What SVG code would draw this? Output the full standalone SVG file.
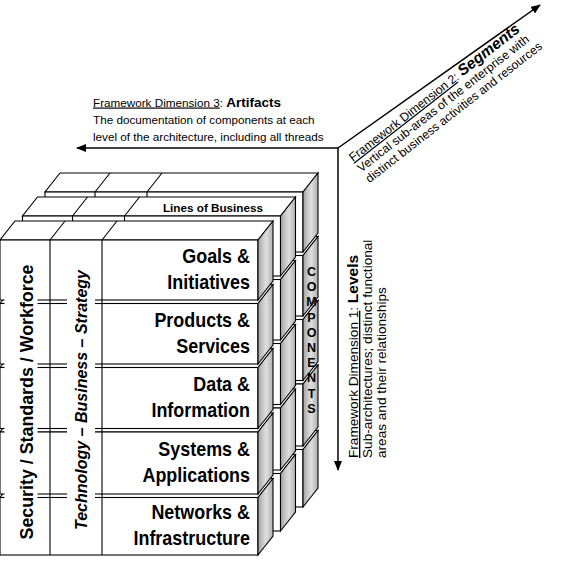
<svg xmlns="http://www.w3.org/2000/svg" xmlns:xlink="http://www.w3.org/1999/xlink" width="561" height="561" viewBox="0 0 561 561">
<style>
text{font-family:"Liberation Sans",Arial,sans-serif;fill:#000}
.f{fill:#fff;stroke:#000;stroke-width:1.1}
.s{fill:url(#side);stroke:#000;stroke-width:1.1}
.ln{stroke:#000;stroke-width:1.1;fill:none}
.ax{stroke:#000;stroke-width:1.5;fill:none;marker-end:url(#ah)}
.row{font-size:19.5px;font-weight:bold;text-anchor:end}
.lbl{font-size:11.7px}
.lvl{font-size:13.6px}
.seg{font-size:12.2px}
.cmp{font-size:12.5px;font-weight:bold;text-anchor:middle}
</style>
<defs>
<linearGradient id="side" x1="0" y1="0" x2="1" y2="0">
<stop offset="0" stop-color="#a2a2a2"/>
<stop offset="0.35" stop-color="#cdcdcd"/>
<stop offset="0.55" stop-color="#dedede"/>
<stop offset="0.78" stop-color="#c6c6c6"/>
<stop offset="1" stop-color="#b0b0b0"/>
</linearGradient>
<marker id="ah" viewBox="0 0 10 8" refX="9" refY="4" markerWidth="10" markerHeight="8" orient="auto" markerUnits="userSpaceOnUse">
<path d="M0,0 L10,4 L0,8 z" fill="#000"/>
</marker>
<g id="slab">
<g id="r5"><polygon class="f" points="0,257.5 258,257.5 273,238.5 15,238.5"/><rect class="f" x="0" y="257.5" width="258" height="57.5"/><polygon class="s" points="258,257.5 273,238.5 273,296 258,315"/></g>
<g id="r4"><polygon class="f" points="0,192 258,192 273,173 15,173"/><rect class="f" x="0" y="192" width="258" height="62"/><polygon class="s" points="258,192 273,173 273,235 258,254"/></g>
<g id="r3"><polygon class="f" points="0,127.5 258,127.5 273,108.5 15,108.5"/><rect class="f" x="0" y="127.5" width="258" height="61"/><polygon class="s" points="258,127.5 273,108.5 273,169.5 258,188.5"/></g>
<g id="r2"><polygon class="f" points="0,63.5 258,63.5 273,44.5 15,44.5"/><rect class="f" x="0" y="63.5" width="258" height="60.5"/><polygon class="s" points="258,63.5 273,44.5 273,105 258,124"/></g>
<g id="r1"><polygon class="f" points="0,0 258,0 273,-19 15,-19"/><rect class="f" x="0" y="0" width="258" height="60"/><polygon class="s" points="258,0 273,-19 273,41 258,60"/></g>
<path class="ln" d="M50,0 L65,-19 M102,0 L117,-19 M50,0 V315 M102,0 V315"/>
</g>
</defs>

<g id="connectors">
<path class="ax" d="M338,148 H77"/>
<path class="ax" d="M338,148 V470"/>
<path class="ax" d="M338,148 L540,5"/>
</g>

<g id="back-slab">
<use xlink:href="#slab" href="#slab" transform="translate(45,192)"/>
<g id="components">
<text class="cmp" x="311.5" y="276">C</text>
<text class="cmp" x="311.5" y="291.2">O</text>
<text class="cmp" x="311.5" y="306.4">M</text>
<text class="cmp" x="311.5" y="321.6">P</text>
<text class="cmp" x="311.5" y="336.8">O</text>
<text class="cmp" x="311.5" y="352">N</text>
<text class="cmp" x="311.5" y="367.2">E</text>
<text class="cmp" x="311.5" y="382.4">N</text>
<text class="cmp" x="311.5" y="397.6">T</text>
<text class="cmp" x="311.5" y="412.8">S</text>
</g>
</g>

<g id="middle-slab">
<use xlink:href="#slab" href="#slab" transform="translate(22.5,216)"/>
<text x="213" y="212" font-size="11.7" font-weight="bold" text-anchor="middle">Lines of Business</text>
</g>

<g id="front-slab">
<use xlink:href="#slab" href="#slab" transform="translate(0,240)"/>
<rect x="4.5" y="262" width="33" height="281" fill="#fff"/>
<rect x="67" y="268" width="28" height="265" fill="#fff"/>
<text transform="translate(32.5,402) rotate(-90)" font-size="19" font-weight="bold" text-anchor="middle" textLength="275" lengthAdjust="spacingAndGlyphs">Security / Standards / Workforce</text>
<text transform="translate(86.5,400) rotate(-90)" font-size="16" font-weight="bold" font-style="italic" text-anchor="middle">Technology – Business – Strategy</text>
<g transform="translate(250,0) scale(0.92,1)">
<g id="goals"><text class="row" x="0" y="263">Goals &amp;</text><text class="row" x="0" y="289.5">Initiatives</text></g>
<g id="products"><text class="row" x="0" y="326.8">Products &amp;</text><text class="row" x="0" y="353.3">Services</text></g>
<g id="data"><text class="row" x="0" y="391">Data &amp;</text><text class="row" x="0" y="417.5">Information</text></g>
<g id="systems"><text class="row" x="0" y="456">Systems &amp;</text><text class="row" x="0" y="482.5">Applications</text></g>
<g id="networks"><text class="row" x="0" y="519.5">Networks &amp;</text><text class="row" x="0" y="545.5">Infrastructure</text></g>
</g>
</g>

<g id="artifacts-label">
<text class="lbl" x="93" y="106.5"><tspan text-decoration="underline">Framework Dimension 3</tspan>: <tspan font-weight="bold" font-size="13.5">Artifacts</tspan></text>
<text class="lbl" x="93" y="124">The documentation of components at each</text>
<text class="lbl" x="93" y="140.5">level of the architecture, including all threads</text>
</g>

<g id="levels-label" transform="translate(358,458) rotate(-90)">
<text class="lvl" x="0" y="0"><tspan text-decoration="underline">Framework Dimension 1</tspan>: <tspan font-weight="bold" font-size="15.5">Levels</tspan></text>
<text class="lvl" x="0" y="14">Sub-architectures; distinct functional</text>
<text class="lvl" x="0" y="28">areas and their relationships</text>
</g>

<g id="segments-label" transform="translate(353,162) rotate(-38)">
<text class="seg" x="0" y="0"><tspan text-decoration="underline">Framework Dimension 2</tspan>: <tspan font-weight="bold" font-style="italic" font-size="15.5">Segments</tspan></text>
<text class="seg" x="0" y="13.5">Vertical sub-areas of the enterprise with</text>
<text class="seg" x="0" y="27">distinct business activities and resources</text>
</g>
</svg>
